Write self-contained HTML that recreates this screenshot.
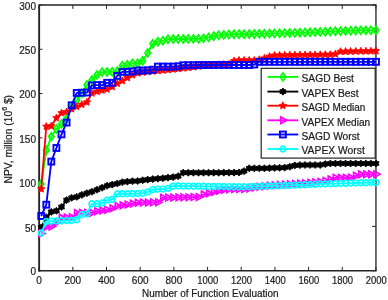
<!DOCTYPE html><html><head><meta charset="utf-8"><title>NPV vs Number of Function Evaluation</title>
<style>html,body{margin:0;padding:0;background:#fff}body{width:388px;height:300px;overflow:hidden}svg{display:block}text{font-family:"Liberation Sans",Arial,Helvetica,sans-serif;font-size:10px;fill:#1a1a1a;stroke:#1a1a1a;stroke-width:0.2px}</style></head><body>
<svg width="388" height="300" viewBox="0 0 388 300">
<defs>
<g id="m-green"><polygon points="0,-3.9 2.75,0 0,3.9 -2.75,0" fill="none" stroke="#00ff00" stroke-width="1.8"/></g>
<g id="m-black"><polygon points="0.00,-3.55 1.22,-2.12 3.07,-1.77 2.45,0.00 3.07,1.77 1.22,2.12 0.00,3.55 -1.22,2.12 -3.07,1.78 -2.45,0.00 -3.07,-1.78 -1.23,-2.12" fill="#000" stroke="#000" stroke-width="0.8" stroke-linejoin="miter"/></g>
<g id="m-red"><polygon points="0.00,-3.90 1.12,-1.54 3.71,-1.21 1.81,0.59 2.29,3.16 0.00,1.90 -2.29,3.16 -1.81,0.59 -3.71,-1.21 -1.12,-1.54" fill="#ff0000" stroke="#ff0000" stroke-width="0.8"/></g>
<g id="m-magenta"><polygon points="-2.1,-3.3 4.0,0 -2.1,3.3" fill="none" stroke="#ff00ff" stroke-width="1.65"/></g>
<g id="m-blue"><rect x="-2.95" y="-2.95" width="5.9" height="5.9" fill="none" stroke="#0000ff" stroke-width="1.9"/></g>
<g id="m-cyan"><circle r="2.85" fill="none" stroke="#00ffff" stroke-width="1.7"/></g>
</defs>
<rect width="388" height="300" fill="#fff"/>
<path d="M39.15,270.7v-3.9M39.15,5.0v3.9M72.83,270.7v-3.9M72.83,5.0v3.9M106.51,270.7v-3.9M106.51,5.0v3.9M140.19,270.7v-3.9M140.19,5.0v3.9M173.87,270.7v-3.9M173.87,5.0v3.9M207.55,270.7v-3.9M207.55,5.0v3.9M241.23,270.7v-3.9M241.23,5.0v3.9M274.91,270.7v-3.9M274.91,5.0v3.9M308.59,270.7v-3.9M308.59,5.0v3.9M342.27,270.7v-3.9M342.27,5.0v3.9M375.95,270.7v-3.9M375.95,5.0v3.9M39.15,270.70h3.3M375.95,270.70h-3.9M39.15,226.42h3.3M375.95,226.42h-3.9M39.15,182.13h3.3M375.95,182.13h-3.9M39.15,137.85h3.3M375.95,137.85h-3.9M39.15,93.57h3.3M375.95,93.57h-3.9M39.15,49.28h3.3M375.95,49.28h-3.9M39.15,5.00h3.3M375.95,5.00h-3.9" stroke="#242424" stroke-width="1" fill="none"/>
<path d="M39.15,4.4V271.45" stroke="#242424" stroke-width="1.9" fill="none"/>
<path d="M38.25,270.7H376.55" stroke="#242424" stroke-width="1.4" fill="none"/>
<path d="M39.15,5.0H375.95V270.7" stroke="#242424" stroke-width="1.3" fill="none"/>
<polyline points="41.2,184.0 46.3,150.3 51.3,136.6 56.4,129.0 61.5,123.9 66.6,118.7 71.6,107.0 76.7,100.0 81.8,93.2 86.9,85.0 91.9,80.0 97.0,74.9 102.1,72.1 107.1,72.0 112.2,71.9 117.3,70.9 122.4,65.6 127.4,64.8 132.5,63.4 137.6,63.3 142.7,60.8 147.7,52.9 152.8,43.8 157.9,41.7 162.9,40.7 168.0,39.2 173.1,39.0 178.2,39.0 183.2,39.0 188.3,38.9 193.4,38.9 198.5,38.9 203.5,38.4 208.6,37.4 213.7,36.2 218.7,35.3 223.8,34.9 228.9,34.5 234.0,34.2 239.0,34.2 244.1,34.2 249.2,34.1 254.3,34.0 259.3,33.8 264.4,33.7 269.5,33.6 274.5,33.4 279.6,33.3 284.7,33.1 289.8,33.0 294.8,32.9 299.9,32.7 305.0,32.5 310.1,32.3 315.1,32.1 320.2,31.9 325.3,31.7 330.3,31.5 335.4,31.3 340.5,31.1 345.6,30.9 350.6,30.7 355.7,30.5 360.8,30.4 365.9,30.4 370.9,30.3 376.0,30.2" fill="none" stroke="#00ff00" stroke-width="1.85" stroke-linejoin="round"/>
<g><use href="#m-green" x="41.2" y="184.0"/><use href="#m-green" x="46.3" y="150.3"/><use href="#m-green" x="51.3" y="136.6"/><use href="#m-green" x="56.4" y="129.0"/><use href="#m-green" x="61.5" y="123.9"/><use href="#m-green" x="66.6" y="118.7"/><use href="#m-green" x="71.6" y="107.0"/><use href="#m-green" x="76.7" y="100.0"/><use href="#m-green" x="81.8" y="93.2"/><use href="#m-green" x="86.9" y="85.0"/><use href="#m-green" x="91.9" y="80.0"/><use href="#m-green" x="97.0" y="74.9"/><use href="#m-green" x="102.1" y="72.1"/><use href="#m-green" x="107.1" y="72.0"/><use href="#m-green" x="112.2" y="71.9"/><use href="#m-green" x="117.3" y="70.9"/><use href="#m-green" x="122.4" y="65.6"/><use href="#m-green" x="127.4" y="64.8"/><use href="#m-green" x="132.5" y="63.4"/><use href="#m-green" x="137.6" y="63.3"/><use href="#m-green" x="142.7" y="60.8"/><use href="#m-green" x="147.7" y="52.9"/><use href="#m-green" x="152.8" y="43.8"/><use href="#m-green" x="157.9" y="41.7"/><use href="#m-green" x="162.9" y="40.7"/><use href="#m-green" x="168.0" y="39.2"/><use href="#m-green" x="173.1" y="39.0"/><use href="#m-green" x="178.2" y="39.0"/><use href="#m-green" x="183.2" y="39.0"/><use href="#m-green" x="188.3" y="38.9"/><use href="#m-green" x="193.4" y="38.9"/><use href="#m-green" x="198.5" y="38.9"/><use href="#m-green" x="203.5" y="38.4"/><use href="#m-green" x="208.6" y="37.4"/><use href="#m-green" x="213.7" y="36.2"/><use href="#m-green" x="218.7" y="35.3"/><use href="#m-green" x="223.8" y="34.9"/><use href="#m-green" x="228.9" y="34.5"/><use href="#m-green" x="234.0" y="34.2"/><use href="#m-green" x="239.0" y="34.2"/><use href="#m-green" x="244.1" y="34.2"/><use href="#m-green" x="249.2" y="34.1"/><use href="#m-green" x="254.3" y="34.0"/><use href="#m-green" x="259.3" y="33.8"/><use href="#m-green" x="264.4" y="33.7"/><use href="#m-green" x="269.5" y="33.6"/><use href="#m-green" x="274.5" y="33.4"/><use href="#m-green" x="279.6" y="33.3"/><use href="#m-green" x="284.7" y="33.1"/><use href="#m-green" x="289.8" y="33.0"/><use href="#m-green" x="294.8" y="32.9"/><use href="#m-green" x="299.9" y="32.7"/><use href="#m-green" x="305.0" y="32.5"/><use href="#m-green" x="310.1" y="32.3"/><use href="#m-green" x="315.1" y="32.1"/><use href="#m-green" x="320.2" y="31.9"/><use href="#m-green" x="325.3" y="31.7"/><use href="#m-green" x="330.3" y="31.5"/><use href="#m-green" x="335.4" y="31.3"/><use href="#m-green" x="340.5" y="31.1"/><use href="#m-green" x="345.6" y="30.9"/><use href="#m-green" x="350.6" y="30.7"/><use href="#m-green" x="355.7" y="30.5"/><use href="#m-green" x="360.8" y="30.4"/><use href="#m-green" x="365.9" y="30.4"/><use href="#m-green" x="370.9" y="30.3"/><use href="#m-green" x="376.0" y="30.2"/></g>
<polyline points="41.2,227.5 46.3,217.3 51.3,211.9 56.4,210.8 61.5,207.0 66.6,200.1 71.6,197.8 76.7,196.8 81.8,194.9 86.9,193.2 91.9,191.7 97.0,189.7 102.1,187.7 107.1,185.7 112.2,184.6 117.3,183.5 122.4,182.2 127.4,181.6 132.5,181.2 137.6,181.0 142.7,180.3 147.7,179.6 152.8,179.1 157.9,178.6 162.9,178.2 168.0,177.6 173.1,177.1 178.2,176.2 183.2,172.7 188.3,172.7 193.4,172.7 198.5,172.7 203.5,172.7 208.6,172.7 213.7,172.7 218.7,172.7 223.8,172.6 228.9,172.6 234.0,172.6 239.0,172.5 244.1,171.1 249.2,168.3 254.3,168.3 259.3,168.3 264.4,168.3 269.5,168.1 274.5,167.9 279.6,167.8 284.7,167.6 289.8,166.7 294.8,165.4 299.9,165.1 305.0,165.0 310.1,165.0 315.1,165.0 320.2,165.0 325.3,164.1 330.3,163.5 335.4,163.5 340.5,163.5 345.6,163.5 350.6,163.5 355.7,163.5 360.8,163.5 365.9,163.5 370.9,163.5 376.0,163.5" fill="none" stroke="#000000" stroke-width="1.85" stroke-linejoin="round"/>
<g><use href="#m-black" x="41.2" y="227.5"/><use href="#m-black" x="46.3" y="217.3"/><use href="#m-black" x="51.3" y="211.9"/><use href="#m-black" x="56.4" y="210.8"/><use href="#m-black" x="61.5" y="207.0"/><use href="#m-black" x="66.6" y="200.1"/><use href="#m-black" x="71.6" y="197.8"/><use href="#m-black" x="76.7" y="196.8"/><use href="#m-black" x="81.8" y="194.9"/><use href="#m-black" x="86.9" y="193.2"/><use href="#m-black" x="91.9" y="191.7"/><use href="#m-black" x="97.0" y="189.7"/><use href="#m-black" x="102.1" y="187.7"/><use href="#m-black" x="107.1" y="185.7"/><use href="#m-black" x="112.2" y="184.6"/><use href="#m-black" x="117.3" y="183.5"/><use href="#m-black" x="122.4" y="182.2"/><use href="#m-black" x="127.4" y="181.6"/><use href="#m-black" x="132.5" y="181.2"/><use href="#m-black" x="137.6" y="181.0"/><use href="#m-black" x="142.7" y="180.3"/><use href="#m-black" x="147.7" y="179.6"/><use href="#m-black" x="152.8" y="179.1"/><use href="#m-black" x="157.9" y="178.6"/><use href="#m-black" x="162.9" y="178.2"/><use href="#m-black" x="168.0" y="177.6"/><use href="#m-black" x="173.1" y="177.1"/><use href="#m-black" x="178.2" y="176.2"/><use href="#m-black" x="183.2" y="172.7"/><use href="#m-black" x="188.3" y="172.7"/><use href="#m-black" x="193.4" y="172.7"/><use href="#m-black" x="198.5" y="172.7"/><use href="#m-black" x="203.5" y="172.7"/><use href="#m-black" x="208.6" y="172.7"/><use href="#m-black" x="213.7" y="172.7"/><use href="#m-black" x="218.7" y="172.7"/><use href="#m-black" x="223.8" y="172.6"/><use href="#m-black" x="228.9" y="172.6"/><use href="#m-black" x="234.0" y="172.6"/><use href="#m-black" x="239.0" y="172.5"/><use href="#m-black" x="244.1" y="171.1"/><use href="#m-black" x="249.2" y="168.3"/><use href="#m-black" x="254.3" y="168.3"/><use href="#m-black" x="259.3" y="168.3"/><use href="#m-black" x="264.4" y="168.3"/><use href="#m-black" x="269.5" y="168.1"/><use href="#m-black" x="274.5" y="167.9"/><use href="#m-black" x="279.6" y="167.8"/><use href="#m-black" x="284.7" y="167.6"/><use href="#m-black" x="289.8" y="166.7"/><use href="#m-black" x="294.8" y="165.4"/><use href="#m-black" x="299.9" y="165.1"/><use href="#m-black" x="305.0" y="165.0"/><use href="#m-black" x="310.1" y="165.0"/><use href="#m-black" x="315.1" y="165.0"/><use href="#m-black" x="320.2" y="165.0"/><use href="#m-black" x="325.3" y="164.1"/><use href="#m-black" x="330.3" y="163.5"/><use href="#m-black" x="335.4" y="163.5"/><use href="#m-black" x="340.5" y="163.5"/><use href="#m-black" x="345.6" y="163.5"/><use href="#m-black" x="350.6" y="163.5"/><use href="#m-black" x="355.7" y="163.5"/><use href="#m-black" x="360.8" y="163.5"/><use href="#m-black" x="365.9" y="163.5"/><use href="#m-black" x="370.9" y="163.5"/><use href="#m-black" x="376.0" y="163.5"/></g>
<polyline points="41.2,189.0 46.3,126.5 51.3,126.0 56.4,118.0 61.5,113.0 66.6,111.9 71.6,109.0 76.7,106.7 81.8,104.5 86.9,102.2 91.9,93.2 97.0,91.6 102.1,90.4 107.1,89.2 112.2,86.8 117.3,83.6 122.4,80.9 127.4,77.8 132.5,75.1 137.6,73.1 142.7,72.3 147.7,71.8 152.8,71.3 157.9,70.8 162.9,70.4 168.0,69.8 173.1,69.3 178.2,68.8 183.2,68.2 188.3,67.7 193.4,67.0 198.5,66.3 203.5,65.5 208.6,65.1 213.7,64.9 218.7,64.7 223.8,64.4 228.9,64.2 234.0,60.9 239.0,60.3 244.1,60.3 249.2,60.3 254.3,60.3 259.3,59.7 264.4,58.2 269.5,56.5 274.5,55.4 279.6,55.3 284.7,55.2 289.8,55.1 294.8,55.0 299.9,54.9 305.0,54.9 310.1,54.8 315.1,54.8 320.2,54.7 325.3,54.6 330.3,54.6 335.4,54.0 340.5,51.6 345.6,51.5 350.6,51.4 355.7,51.3 360.8,51.2 365.9,51.2 370.9,51.1 376.0,51.0" fill="none" stroke="#ff0000" stroke-width="1.85" stroke-linejoin="round"/>
<g><use href="#m-red" x="41.2" y="189.0"/><use href="#m-red" x="46.3" y="126.5"/><use href="#m-red" x="51.3" y="126.0"/><use href="#m-red" x="56.4" y="118.0"/><use href="#m-red" x="61.5" y="113.0"/><use href="#m-red" x="66.6" y="111.9"/><use href="#m-red" x="71.6" y="109.0"/><use href="#m-red" x="76.7" y="106.7"/><use href="#m-red" x="81.8" y="104.5"/><use href="#m-red" x="86.9" y="102.2"/><use href="#m-red" x="91.9" y="93.2"/><use href="#m-red" x="97.0" y="91.6"/><use href="#m-red" x="102.1" y="90.4"/><use href="#m-red" x="107.1" y="89.2"/><use href="#m-red" x="112.2" y="86.8"/><use href="#m-red" x="117.3" y="83.6"/><use href="#m-red" x="122.4" y="80.9"/><use href="#m-red" x="127.4" y="77.8"/><use href="#m-red" x="132.5" y="75.1"/><use href="#m-red" x="137.6" y="73.1"/><use href="#m-red" x="142.7" y="72.3"/><use href="#m-red" x="147.7" y="71.8"/><use href="#m-red" x="152.8" y="71.3"/><use href="#m-red" x="157.9" y="70.8"/><use href="#m-red" x="162.9" y="70.4"/><use href="#m-red" x="168.0" y="69.8"/><use href="#m-red" x="173.1" y="69.3"/><use href="#m-red" x="178.2" y="68.8"/><use href="#m-red" x="183.2" y="68.2"/><use href="#m-red" x="188.3" y="67.7"/><use href="#m-red" x="193.4" y="67.0"/><use href="#m-red" x="198.5" y="66.3"/><use href="#m-red" x="203.5" y="65.5"/><use href="#m-red" x="208.6" y="65.1"/><use href="#m-red" x="213.7" y="64.9"/><use href="#m-red" x="218.7" y="64.7"/><use href="#m-red" x="223.8" y="64.4"/><use href="#m-red" x="228.9" y="64.2"/><use href="#m-red" x="234.0" y="60.9"/><use href="#m-red" x="239.0" y="60.3"/><use href="#m-red" x="244.1" y="60.3"/><use href="#m-red" x="249.2" y="60.3"/><use href="#m-red" x="254.3" y="60.3"/><use href="#m-red" x="259.3" y="59.7"/><use href="#m-red" x="264.4" y="58.2"/><use href="#m-red" x="269.5" y="56.5"/><use href="#m-red" x="274.5" y="55.4"/><use href="#m-red" x="279.6" y="55.3"/><use href="#m-red" x="284.7" y="55.2"/><use href="#m-red" x="289.8" y="55.1"/><use href="#m-red" x="294.8" y="55.0"/><use href="#m-red" x="299.9" y="54.9"/><use href="#m-red" x="305.0" y="54.9"/><use href="#m-red" x="310.1" y="54.8"/><use href="#m-red" x="315.1" y="54.8"/><use href="#m-red" x="320.2" y="54.7"/><use href="#m-red" x="325.3" y="54.6"/><use href="#m-red" x="330.3" y="54.6"/><use href="#m-red" x="335.4" y="54.0"/><use href="#m-red" x="340.5" y="51.6"/><use href="#m-red" x="345.6" y="51.5"/><use href="#m-red" x="350.6" y="51.4"/><use href="#m-red" x="355.7" y="51.3"/><use href="#m-red" x="360.8" y="51.2"/><use href="#m-red" x="365.9" y="51.2"/><use href="#m-red" x="370.9" y="51.1"/><use href="#m-red" x="376.0" y="51.0"/></g>
<polyline points="41.2,233.5 46.3,226.7 51.3,226.5 56.4,222.5 61.5,217.5 66.6,217.5 71.6,217.3 76.7,213.0 81.8,212.9 86.9,212.9 91.9,212.8 97.0,211.2 102.1,210.5 107.1,209.8 112.2,208.4 117.3,206.0 122.4,205.2 127.4,204.5 132.5,203.6 137.6,202.8 142.7,202.6 147.7,202.5 152.8,202.4 157.9,202.2 162.9,197.8 168.0,197.6 173.1,197.5 178.2,197.4 183.2,197.3 188.3,197.2 193.4,197.1 198.5,197.0 203.5,194.4 208.6,193.3 213.7,192.1 218.7,190.9 223.8,189.8 228.9,189.3 234.0,189.0 239.0,189.0 244.1,189.0 249.2,188.5 254.3,187.6 259.3,186.9 264.4,186.2 269.5,185.6 274.5,185.3 279.6,184.9 284.7,184.6 289.8,184.3 294.8,183.9 299.9,183.6 305.0,183.2 310.1,182.7 315.1,182.3 320.2,181.9 325.3,180.9 330.3,179.4 335.4,177.8 340.5,177.7 345.6,177.7 350.6,177.6 355.7,175.8 360.8,174.4 365.9,174.4 370.9,174.3 376.0,174.3" fill="none" stroke="#ff00ff" stroke-width="1.85" stroke-linejoin="round"/>
<g><use href="#m-magenta" x="41.2" y="233.5"/><use href="#m-magenta" x="46.3" y="226.7"/><use href="#m-magenta" x="51.3" y="226.5"/><use href="#m-magenta" x="56.4" y="222.5"/><use href="#m-magenta" x="61.5" y="217.5"/><use href="#m-magenta" x="66.6" y="217.5"/><use href="#m-magenta" x="71.6" y="217.3"/><use href="#m-magenta" x="76.7" y="213.0"/><use href="#m-magenta" x="81.8" y="212.9"/><use href="#m-magenta" x="86.9" y="212.9"/><use href="#m-magenta" x="91.9" y="212.8"/><use href="#m-magenta" x="97.0" y="211.2"/><use href="#m-magenta" x="102.1" y="210.5"/><use href="#m-magenta" x="107.1" y="209.8"/><use href="#m-magenta" x="112.2" y="208.4"/><use href="#m-magenta" x="117.3" y="206.0"/><use href="#m-magenta" x="122.4" y="205.2"/><use href="#m-magenta" x="127.4" y="204.5"/><use href="#m-magenta" x="132.5" y="203.6"/><use href="#m-magenta" x="137.6" y="202.8"/><use href="#m-magenta" x="142.7" y="202.6"/><use href="#m-magenta" x="147.7" y="202.5"/><use href="#m-magenta" x="152.8" y="202.4"/><use href="#m-magenta" x="157.9" y="202.2"/><use href="#m-magenta" x="162.9" y="197.8"/><use href="#m-magenta" x="168.0" y="197.6"/><use href="#m-magenta" x="173.1" y="197.5"/><use href="#m-magenta" x="178.2" y="197.4"/><use href="#m-magenta" x="183.2" y="197.3"/><use href="#m-magenta" x="188.3" y="197.2"/><use href="#m-magenta" x="193.4" y="197.1"/><use href="#m-magenta" x="198.5" y="197.0"/><use href="#m-magenta" x="203.5" y="194.4"/><use href="#m-magenta" x="208.6" y="193.3"/><use href="#m-magenta" x="213.7" y="192.1"/><use href="#m-magenta" x="218.7" y="190.9"/><use href="#m-magenta" x="223.8" y="189.8"/><use href="#m-magenta" x="228.9" y="189.3"/><use href="#m-magenta" x="234.0" y="189.0"/><use href="#m-magenta" x="239.0" y="189.0"/><use href="#m-magenta" x="244.1" y="189.0"/><use href="#m-magenta" x="249.2" y="188.5"/><use href="#m-magenta" x="254.3" y="187.6"/><use href="#m-magenta" x="259.3" y="186.9"/><use href="#m-magenta" x="264.4" y="186.2"/><use href="#m-magenta" x="269.5" y="185.6"/><use href="#m-magenta" x="274.5" y="185.3"/><use href="#m-magenta" x="279.6" y="184.9"/><use href="#m-magenta" x="284.7" y="184.6"/><use href="#m-magenta" x="289.8" y="184.3"/><use href="#m-magenta" x="294.8" y="183.9"/><use href="#m-magenta" x="299.9" y="183.6"/><use href="#m-magenta" x="305.0" y="183.2"/><use href="#m-magenta" x="310.1" y="182.7"/><use href="#m-magenta" x="315.1" y="182.3"/><use href="#m-magenta" x="320.2" y="181.9"/><use href="#m-magenta" x="325.3" y="180.9"/><use href="#m-magenta" x="330.3" y="179.4"/><use href="#m-magenta" x="335.4" y="177.8"/><use href="#m-magenta" x="340.5" y="177.7"/><use href="#m-magenta" x="345.6" y="177.7"/><use href="#m-magenta" x="350.6" y="177.6"/><use href="#m-magenta" x="355.7" y="175.8"/><use href="#m-magenta" x="360.8" y="174.4"/><use href="#m-magenta" x="365.9" y="174.4"/><use href="#m-magenta" x="370.9" y="174.3"/><use href="#m-magenta" x="376.0" y="174.3"/></g>
<polyline points="41.2,216.0 46.3,204.7 51.3,161.6 56.4,148.0 61.5,134.4 66.6,122.6 71.6,105.3 76.7,92.9 81.8,92.7 86.9,92.5 91.9,85.4 97.0,85.1 102.1,85.1 107.1,82.8 112.2,82.8 117.3,75.9 122.4,71.9 127.4,71.8 132.5,71.4 137.6,70.5 142.7,70.5 147.7,70.3 152.8,69.7 157.9,66.6 162.9,66.6 168.0,66.6 173.1,66.6 178.2,66.3 183.2,65.2 188.3,65.2 193.4,65.2 198.5,65.0 203.5,65.0 208.6,65.0 213.7,65.0 218.7,65.0 223.8,65.0 228.9,65.0 234.0,65.0 239.0,65.0 244.1,65.0 249.2,65.0 254.3,64.5 259.3,61.8 264.4,61.8 269.5,61.8 274.5,61.8 279.6,61.8 284.7,61.8 289.8,61.8 294.8,61.8 299.9,61.8 305.0,61.8 310.1,61.8 315.1,61.8 320.2,61.8 325.3,61.8 330.3,61.8 335.4,61.8 340.5,61.8 345.6,61.8 350.6,61.8 355.7,61.8 360.8,61.8 365.9,61.8 370.9,61.8 376.0,61.8" fill="none" stroke="#0000ff" stroke-width="1.85" stroke-linejoin="round"/>
<g><use href="#m-blue" x="41.2" y="216.0"/><use href="#m-blue" x="46.3" y="204.7"/><use href="#m-blue" x="51.3" y="161.6"/><use href="#m-blue" x="56.4" y="148.0"/><use href="#m-blue" x="61.5" y="134.4"/><use href="#m-blue" x="66.6" y="122.6"/><use href="#m-blue" x="71.6" y="105.3"/><use href="#m-blue" x="76.7" y="92.9"/><use href="#m-blue" x="81.8" y="92.7"/><use href="#m-blue" x="86.9" y="92.5"/><use href="#m-blue" x="91.9" y="85.4"/><use href="#m-blue" x="97.0" y="85.1"/><use href="#m-blue" x="102.1" y="85.1"/><use href="#m-blue" x="107.1" y="82.8"/><use href="#m-blue" x="112.2" y="82.8"/><use href="#m-blue" x="117.3" y="75.9"/><use href="#m-blue" x="122.4" y="71.9"/><use href="#m-blue" x="127.4" y="71.8"/><use href="#m-blue" x="132.5" y="71.4"/><use href="#m-blue" x="137.6" y="70.5"/><use href="#m-blue" x="142.7" y="70.5"/><use href="#m-blue" x="147.7" y="70.3"/><use href="#m-blue" x="152.8" y="69.7"/><use href="#m-blue" x="157.9" y="66.6"/><use href="#m-blue" x="162.9" y="66.6"/><use href="#m-blue" x="168.0" y="66.6"/><use href="#m-blue" x="173.1" y="66.6"/><use href="#m-blue" x="178.2" y="66.3"/><use href="#m-blue" x="183.2" y="65.2"/><use href="#m-blue" x="188.3" y="65.2"/><use href="#m-blue" x="193.4" y="65.2"/><use href="#m-blue" x="198.5" y="65.0"/><use href="#m-blue" x="203.5" y="65.0"/><use href="#m-blue" x="208.6" y="65.0"/><use href="#m-blue" x="213.7" y="65.0"/><use href="#m-blue" x="218.7" y="65.0"/><use href="#m-blue" x="223.8" y="65.0"/><use href="#m-blue" x="228.9" y="65.0"/><use href="#m-blue" x="234.0" y="65.0"/><use href="#m-blue" x="239.0" y="65.0"/><use href="#m-blue" x="244.1" y="65.0"/><use href="#m-blue" x="249.2" y="65.0"/><use href="#m-blue" x="254.3" y="64.5"/><use href="#m-blue" x="259.3" y="61.8"/><use href="#m-blue" x="264.4" y="61.8"/><use href="#m-blue" x="269.5" y="61.8"/><use href="#m-blue" x="274.5" y="61.8"/><use href="#m-blue" x="279.6" y="61.8"/><use href="#m-blue" x="284.7" y="61.8"/><use href="#m-blue" x="289.8" y="61.8"/><use href="#m-blue" x="294.8" y="61.8"/><use href="#m-blue" x="299.9" y="61.8"/><use href="#m-blue" x="305.0" y="61.8"/><use href="#m-blue" x="310.1" y="61.8"/><use href="#m-blue" x="315.1" y="61.8"/><use href="#m-blue" x="320.2" y="61.8"/><use href="#m-blue" x="325.3" y="61.8"/><use href="#m-blue" x="330.3" y="61.8"/><use href="#m-blue" x="335.4" y="61.8"/><use href="#m-blue" x="340.5" y="61.8"/><use href="#m-blue" x="345.6" y="61.8"/><use href="#m-blue" x="350.6" y="61.8"/><use href="#m-blue" x="355.7" y="61.8"/><use href="#m-blue" x="360.8" y="61.8"/><use href="#m-blue" x="365.9" y="61.8"/><use href="#m-blue" x="370.9" y="61.8"/><use href="#m-blue" x="376.0" y="61.8"/></g>
<polyline points="41.2,233.0 46.3,221.5 51.3,221.1 56.4,220.9 61.5,220.8 66.6,220.6 71.6,220.5 76.7,219.7 81.8,214.7 86.9,213.8 91.9,203.8 97.0,203.8 102.1,203.0 107.1,200.1 112.2,199.3 117.3,194.0 122.4,193.7 127.4,193.7 132.5,193.7 137.6,193.5 142.7,193.2 147.7,191.9 152.8,189.6 157.9,189.1 162.9,189.1 168.0,188.5 173.1,186.2 178.2,186.0 183.2,186.1 188.3,186.1 193.4,186.2 198.5,186.2 203.5,186.3 208.6,186.4 213.7,186.4 218.7,186.5 223.8,186.5 228.9,186.6 234.0,186.7 239.0,186.7 244.1,186.8 249.2,186.7 254.3,186.5 259.3,186.4 264.4,186.2 269.5,186.0 274.5,185.9 279.6,185.7 284.7,185.5 289.8,185.4 294.8,185.2 299.9,185.0 305.0,184.8 310.1,184.5 315.1,184.3 320.2,184.0 325.3,183.9 330.3,183.7 335.4,183.6 340.5,183.4 345.6,183.3 350.6,183.1 355.7,183.0 360.8,182.8 365.9,182.7 370.9,182.5 376.0,182.4" fill="none" stroke="#00ffff" stroke-width="1.85" stroke-linejoin="round"/>
<g><use href="#m-cyan" x="41.2" y="233.0"/><use href="#m-cyan" x="46.3" y="221.5"/><use href="#m-cyan" x="51.3" y="221.1"/><use href="#m-cyan" x="56.4" y="220.9"/><use href="#m-cyan" x="61.5" y="220.8"/><use href="#m-cyan" x="66.6" y="220.6"/><use href="#m-cyan" x="71.6" y="220.5"/><use href="#m-cyan" x="76.7" y="219.7"/><use href="#m-cyan" x="81.8" y="214.7"/><use href="#m-cyan" x="86.9" y="213.8"/><use href="#m-cyan" x="91.9" y="203.8"/><use href="#m-cyan" x="97.0" y="203.8"/><use href="#m-cyan" x="102.1" y="203.0"/><use href="#m-cyan" x="107.1" y="200.1"/><use href="#m-cyan" x="112.2" y="199.3"/><use href="#m-cyan" x="117.3" y="194.0"/><use href="#m-cyan" x="122.4" y="193.7"/><use href="#m-cyan" x="127.4" y="193.7"/><use href="#m-cyan" x="132.5" y="193.7"/><use href="#m-cyan" x="137.6" y="193.5"/><use href="#m-cyan" x="142.7" y="193.2"/><use href="#m-cyan" x="147.7" y="191.9"/><use href="#m-cyan" x="152.8" y="189.6"/><use href="#m-cyan" x="157.9" y="189.1"/><use href="#m-cyan" x="162.9" y="189.1"/><use href="#m-cyan" x="168.0" y="188.5"/><use href="#m-cyan" x="173.1" y="186.2"/><use href="#m-cyan" x="178.2" y="186.0"/><use href="#m-cyan" x="183.2" y="186.1"/><use href="#m-cyan" x="188.3" y="186.1"/><use href="#m-cyan" x="193.4" y="186.2"/><use href="#m-cyan" x="198.5" y="186.2"/><use href="#m-cyan" x="203.5" y="186.3"/><use href="#m-cyan" x="208.6" y="186.4"/><use href="#m-cyan" x="213.7" y="186.4"/><use href="#m-cyan" x="218.7" y="186.5"/><use href="#m-cyan" x="223.8" y="186.5"/><use href="#m-cyan" x="228.9" y="186.6"/><use href="#m-cyan" x="234.0" y="186.7"/><use href="#m-cyan" x="239.0" y="186.7"/><use href="#m-cyan" x="244.1" y="186.8"/><use href="#m-cyan" x="249.2" y="186.7"/><use href="#m-cyan" x="254.3" y="186.5"/><use href="#m-cyan" x="259.3" y="186.4"/><use href="#m-cyan" x="264.4" y="186.2"/><use href="#m-cyan" x="269.5" y="186.0"/><use href="#m-cyan" x="274.5" y="185.9"/><use href="#m-cyan" x="279.6" y="185.7"/><use href="#m-cyan" x="284.7" y="185.5"/><use href="#m-cyan" x="289.8" y="185.4"/><use href="#m-cyan" x="294.8" y="185.2"/><use href="#m-cyan" x="299.9" y="185.0"/><use href="#m-cyan" x="305.0" y="184.8"/><use href="#m-cyan" x="310.1" y="184.5"/><use href="#m-cyan" x="315.1" y="184.3"/><use href="#m-cyan" x="320.2" y="184.0"/><use href="#m-cyan" x="325.3" y="183.9"/><use href="#m-cyan" x="330.3" y="183.7"/><use href="#m-cyan" x="335.4" y="183.6"/><use href="#m-cyan" x="340.5" y="183.4"/><use href="#m-cyan" x="345.6" y="183.3"/><use href="#m-cyan" x="350.6" y="183.1"/><use href="#m-cyan" x="355.7" y="183.0"/><use href="#m-cyan" x="360.8" y="182.8"/><use href="#m-cyan" x="365.9" y="182.7"/><use href="#m-cyan" x="370.9" y="182.5"/><use href="#m-cyan" x="376.0" y="182.4"/></g>
<text x="39.15" y="283.8" text-anchor="middle">0</text>
<text x="72.83" y="283.8" text-anchor="middle">200</text>
<text x="106.51" y="283.8" text-anchor="middle">400</text>
<text x="140.19" y="283.8" text-anchor="middle">600</text>
<text x="173.87" y="283.8" text-anchor="middle">800</text>
<text x="207.85" y="283.8" text-anchor="middle" textLength="21" lengthAdjust="spacingAndGlyphs">1000</text>
<text x="241.53" y="283.8" text-anchor="middle" textLength="21" lengthAdjust="spacingAndGlyphs">1200</text>
<text x="275.21" y="283.8" text-anchor="middle" textLength="21" lengthAdjust="spacingAndGlyphs">1400</text>
<text x="308.89" y="283.8" text-anchor="middle" textLength="21" lengthAdjust="spacingAndGlyphs">1600</text>
<text x="342.57" y="283.8" text-anchor="middle" textLength="21" lengthAdjust="spacingAndGlyphs">1800</text>
<text x="376.25" y="283.8" text-anchor="middle" textLength="21" lengthAdjust="spacingAndGlyphs">2000</text>
<text x="36" y="275.10" text-anchor="end">0</text>
<text x="36" y="231.52" text-anchor="end">50</text>
<text x="36" y="186.83" text-anchor="end">100</text>
<text x="36" y="142.95" text-anchor="end">150</text>
<text x="36" y="97.97" text-anchor="end">200</text>
<text x="36" y="54.08" text-anchor="end">250</text>
<text x="36" y="9.80" text-anchor="end">300</text>
<text x="210.3" y="297" text-anchor="middle" textLength="136.4" lengthAdjust="spacingAndGlyphs">Number of Function Evaluation</text>
<text transform="translate(11.9,139.2) rotate(-90)" text-anchor="middle" style="font-size:10.25px">NPV, million (10<tspan font-size="7px" dy="-5">6</tspan><tspan dy="5"> $)</tspan></text>
<rect x="261.2" y="68.3" width="114.0" height="89.8" fill="#fff" stroke="#242424" stroke-width="1.2"/>
<path d="M267.4,76.90H298.3" stroke="#00ff00" stroke-width="1.85"/>
<use href="#m-green" x="282.9" y="76.90"/>
<text x="301.5" y="82.10" style="font-size:10.2px" textLength="52.4" lengthAdjust="spacingAndGlyphs">SAGD Best</text>
<path d="M267.4,91.60H298.3" stroke="#000000" stroke-width="1.85"/>
<use href="#m-black" x="282.9" y="91.60"/>
<text x="301.5" y="96.80" style="font-size:10.2px" textLength="57.1" lengthAdjust="spacingAndGlyphs">VAPEX Best</text>
<path d="M267.4,105.70H298.3" stroke="#ff0000" stroke-width="1.85"/>
<use href="#m-red" x="282.9" y="105.70"/>
<text x="301.5" y="110.90" style="font-size:10.2px" textLength="63.9" lengthAdjust="spacingAndGlyphs">SAGD Median</text>
<path d="M267.4,120.30H298.3" stroke="#ff00ff" stroke-width="1.85"/>
<use href="#m-magenta" x="282.9" y="120.30"/>
<text x="301.5" y="125.50" style="font-size:10.2px" textLength="68.6" lengthAdjust="spacingAndGlyphs">VAPEX Median</text>
<path d="M267.4,134.50H298.3" stroke="#0000ff" stroke-width="1.85"/>
<use href="#m-blue" x="282.9" y="134.50"/>
<text x="301.5" y="139.70" style="font-size:10.2px" textLength="58.1" lengthAdjust="spacingAndGlyphs">SAGD Worst</text>
<path d="M267.4,149.00H298.3" stroke="#00ffff" stroke-width="1.85"/>
<use href="#m-cyan" x="282.9" y="149.00"/>
<text x="301.5" y="154.20" style="font-size:10.2px" textLength="63.3" lengthAdjust="spacingAndGlyphs">VAPEX Worst</text>
</svg></body></html>
